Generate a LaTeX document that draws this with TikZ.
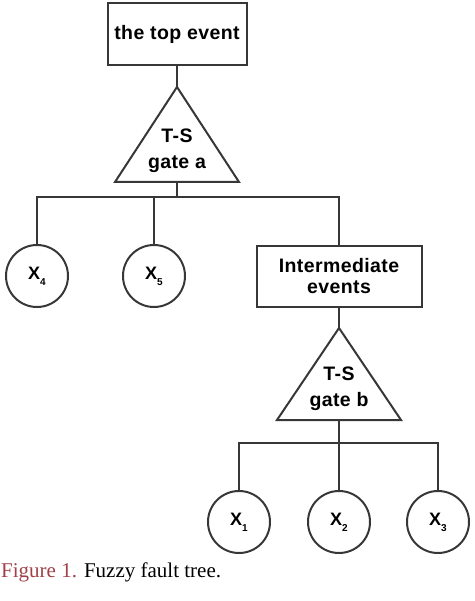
\documentclass[tikz,border=0pt]{standalone}
\usepackage{fontspec}
\setmainfont{Liberation Serif}
\newfontfamily\treefont[LetterSpace=2]{Liberation Sans}
\usepackage{xcolor}
\definecolor{figred}{RGB}{160,64,72}
\definecolor{treeline}{RGB}{55,55,55}
\newcommand{\basicev}[1]{X\raisebox{-6pt}{\fontsize{10}{10}\selectfont #1}}
\tikzstyle{wire}=[draw=treeline, line width=2pt]
\tikzstyle{eventbox}=[wire, rectangle, inner sep=0pt, align=center, font=\treefont\bfseries\fontsize{19.5}{21}\selectfont]
\tikzstyle{basicev}=[wire, circle, minimum size=62pt, inner sep=0pt, font=\treefont\bfseries\fontsize{18}{21}\selectfont]
\tikzstyle{gatelabel}=[inner sep=0pt, align=center, font=\treefont\bfseries\fontsize{19.5}{26}\selectfont]

\begin{document}
\begin{tikzpicture}[x=1pt, y=-1pt]
	\useasboundingbox (0,0) rectangle (474,601);
	%\draw[help lines, step=50] (0,0) grid (474,601);

	\node[eventbox, minimum width=139pt, minimum height=62pt] (top) at (177,34) {the top event};%top event

	\coordinate (ga apex) at (177,87);
	\coordinate (ga base) at (177,182);
	\coordinate (ga bar) at (177,197);
	\draw[wire] (ga apex) -- ++(-62,95) -- ++(124,0) -- cycle;%gate a
	\node[gatelabel] (ga) at (177,151) {T-S\\gate a};

	\node[basicev] (x4) at (37,276) {\basicev{4}};
	\node[basicev] (x5) at (154,276) {\basicev{5}};
	\node[eventbox, minimum width=165pt, minimum height=61pt] (mid) at (339,276.5) {Intermediate\\events};%intermediate

	\coordinate (gb apex) at (339,328);
	\coordinate (gb base) at (339,420);
	\coordinate (gb bar) at (339,443);
	\draw[wire] (gb apex) -- ++(-62,92) -- ++(124,0) -- cycle;%gate b
	\node[gatelabel] (gb) at (339,389) {T-S\\gate b};

	\node[basicev] (x1) at (239,522) {\basicev{1}};
	\node[basicev] (x2) at (339,522) {\basicev{2}};
	\node[basicev] (x3) at (438,522) {\basicev{3}};

	%connectors
	\draw[wire] (top.south) -- (ga apex);
	\draw[wire] (ga base) -- (ga bar);
	\draw[wire] (x4.north) -- (x4.north |- ga bar) -- (mid.north |- ga bar) -- (mid.north);
	\draw[wire] (x5.north) -- (x5.north |- ga bar);
	\draw[wire] (mid.south) -- (gb apex);
	\draw[wire] (gb base) -- (x2.north);
	\draw[wire] (x1.north) -- (x1.north |- gb bar) -- (x3.north |- gb bar) -- (x3.north);

	\node[anchor=west, inner sep=0pt, font=\fontsize{21}{24}\selectfont] (caption) at (1,572) {\textcolor{figred}{Figure 1.} Fuzzy fault tree.};
\end{tikzpicture}
\end{document}
